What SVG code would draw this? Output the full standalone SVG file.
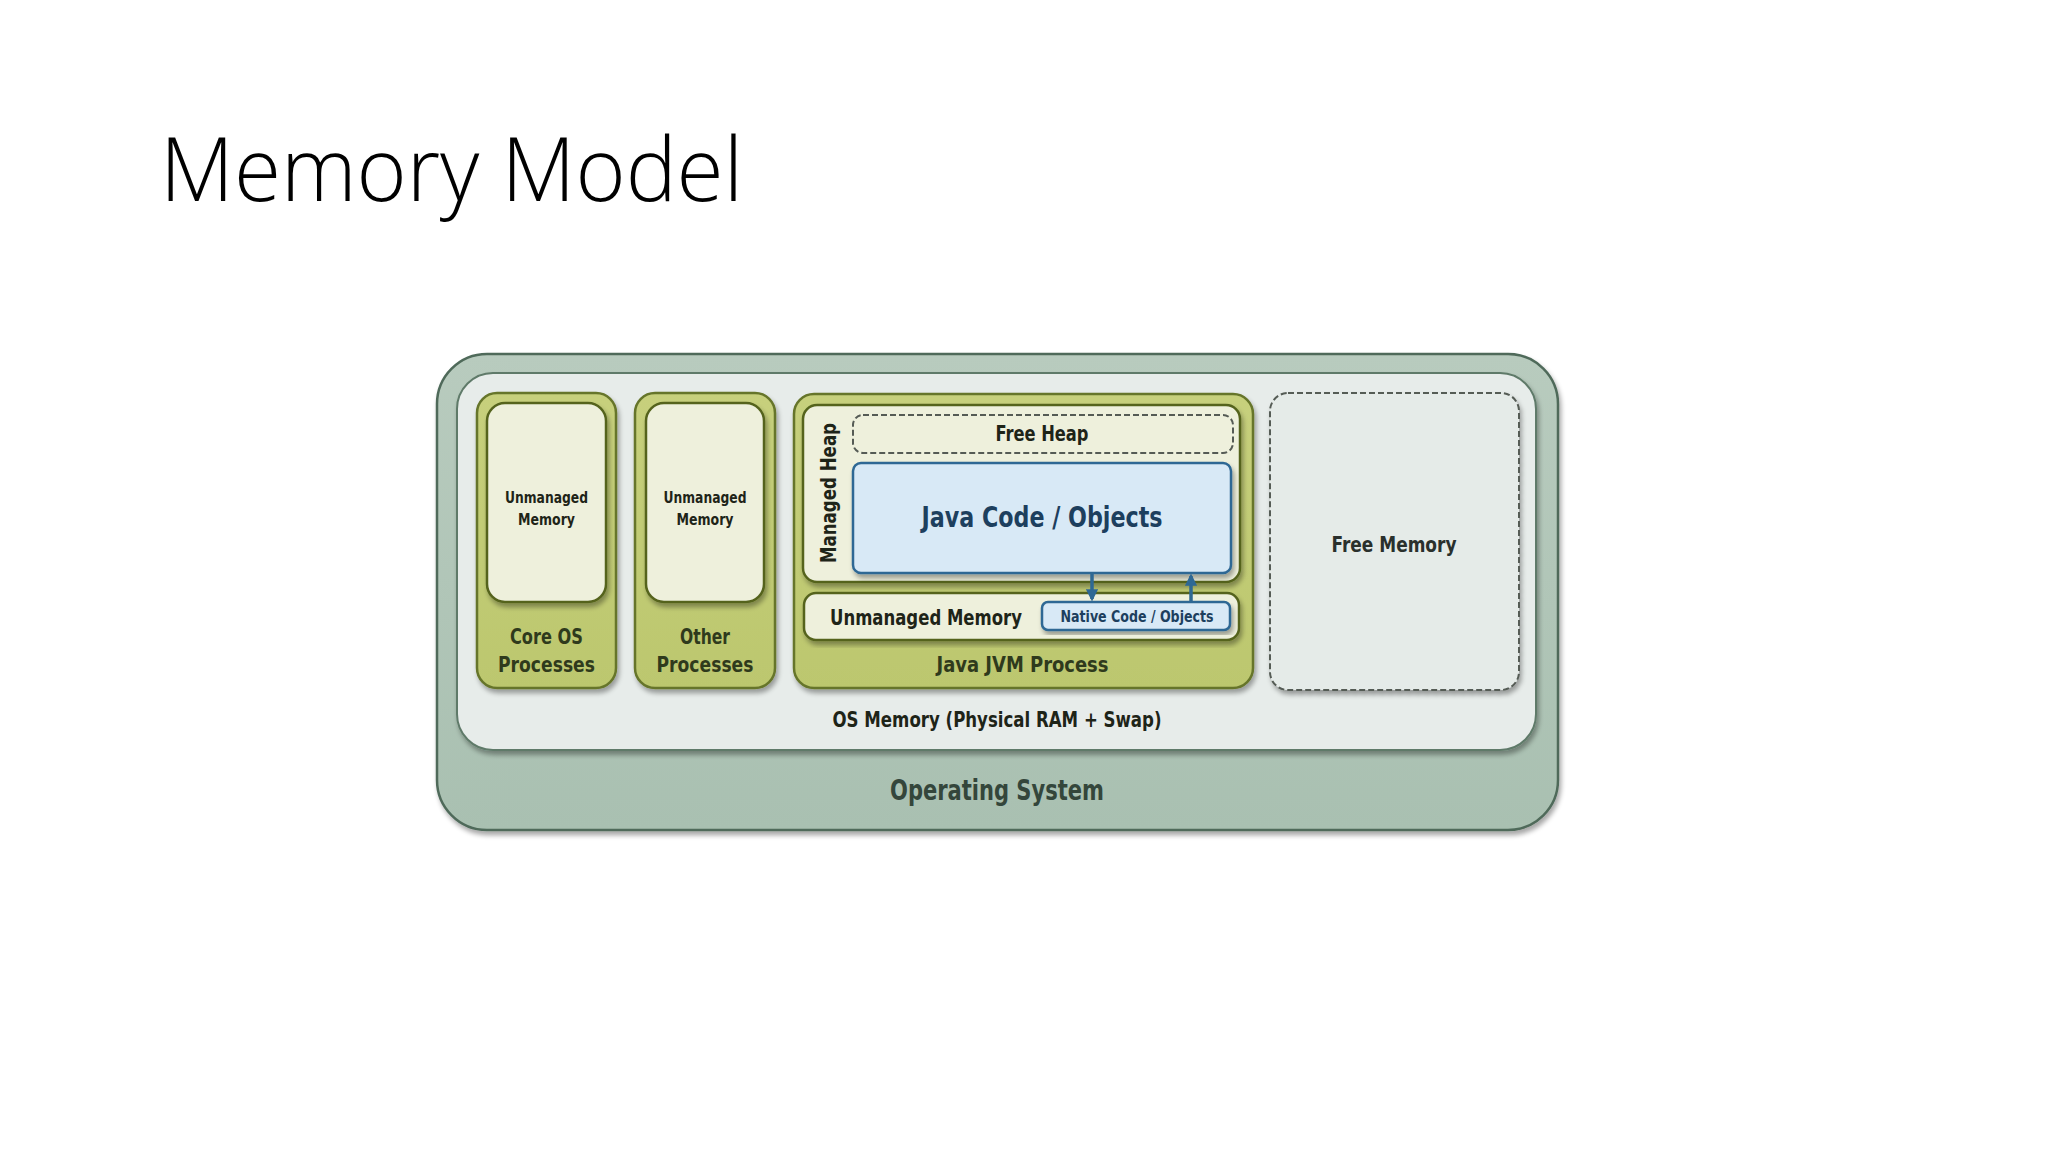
<svg xmlns="http://www.w3.org/2000/svg" width="2048" height="1152" viewBox="0 0 2048 1152">
  <defs>
    <filter id="sh" x="-10%" y="-10%" width="120%" height="125%">
      <feGaussianBlur in="SourceAlpha" stdDeviation="2.5"/>
      <feOffset dx="2" dy="4" result="b"/>
      <feComponentTransfer><feFuncA type="linear" slope="0.35"/></feComponentTransfer>
      <feMerge><feMergeNode/><feMergeNode in="SourceGraphic"/></feMerge>
    </filter>
    <linearGradient id="gOS" x1="0" y1="0" x2="0" y2="1">
      <stop offset="0" stop-color="#b8cbbe"/>
      <stop offset="1" stop-color="#a9c0b1"/>
    </linearGradient>
    <linearGradient id="gGreen" x1="0" y1="0" x2="0" y2="1">
      <stop offset="0" stop-color="#c7d07c"/>
      <stop offset="1" stop-color="#bcc76e"/>
    </linearGradient>
    <marker id="ah" viewBox="0 0 10 10" refX="8" refY="5" markerWidth="3.5" markerHeight="3.5" orient="auto-start-reverse">
      <path d="M0,0 L10,5 L0,10 z" fill="#2e6894"/>
    </marker>
    <style>
      .lbl { font-family: "DejaVu Sans Condensed", "Liberation Sans", Arial, sans-serif; font-stretch: condensed; font-weight: bold; text-anchor: middle; }
      .dark { fill: #1e2418; }
      .olive { fill: #2f3a1c; }
      .navy { fill: #1d3f5e; }
      .osbox { fill: url(#gOS); stroke: #4f6a5a; stroke-width: 2.5; }
      .osmem { fill: #e7ecea; stroke: #5f7a69; stroke-width: 2; }
      .green { fill: url(#gGreen); stroke: #66752a; stroke-width: 2.5; }
      .cream { fill: #eef0dc; stroke: #55641f; stroke-width: 2.5; }
      .dash { stroke: #555b55; stroke-width: 2; stroke-dasharray: 6 3; }
      .blue { fill: #d8e9f6; stroke: #2e6894; stroke-width: 2.5; }
      .conn { stroke: #2e6894; stroke-width: 3.5; fill: none; }
    </style>
  </defs>

  <rect width="2048" height="1152" fill="#ffffff"/>

  <text x="160" y="201" font-family="'Open Sans', 'Noto Sans', sans-serif" font-weight="300" font-size="88" textLength="583" lengthAdjust="spacingAndGlyphs" fill="#000000">Memory Model</text>

  <g id="operating-system">
    <rect class="osbox" x="437" y="354" width="1121" height="476" rx="50" filter="url(#sh)"/>
    <text class="lbl" x="997" y="800" font-size="28" textLength="214" lengthAdjust="spacingAndGlyphs" fill="#34463b">Operating System</text>
  </g>

  <g id="os-memory">
    <rect class="osmem" x="457" y="373" width="1079" height="377" rx="36" filter="url(#sh)"/>
    <text class="lbl dark" x="997" y="727" font-size="21" textLength="329" lengthAdjust="spacingAndGlyphs">OS Memory (Physical RAM + Swap)</text>
  </g>

  <g id="core-os-processes">
    <rect class="green" x="477" y="393" width="139" height="295" rx="20" filter="url(#sh)"/>
    <text class="lbl olive" x="546.5" y="644" font-size="22" textLength="73" lengthAdjust="spacingAndGlyphs">Core OS</text>
    <text class="lbl olive" x="546.5" y="672" font-size="22" textLength="97" lengthAdjust="spacingAndGlyphs">Processes</text>
  </g>
  <g id="core-os-unmanaged">
    <rect class="cream" x="487" y="403" width="119" height="199" rx="18" filter="url(#sh)"/>
    <text class="lbl dark" x="546.5" y="503" font-size="16" textLength="83" lengthAdjust="spacingAndGlyphs">Unmanaged</text>
    <text class="lbl dark" x="546.5" y="525" font-size="16" textLength="57" lengthAdjust="spacingAndGlyphs">Memory</text>
  </g>

  <g id="other-processes">
    <rect class="green" x="635" y="393" width="140" height="295" rx="20" filter="url(#sh)"/>
    <text class="lbl olive" x="705" y="644" font-size="22" textLength="50" lengthAdjust="spacingAndGlyphs">Other</text>
    <text class="lbl olive" x="705" y="672" font-size="22" textLength="97" lengthAdjust="spacingAndGlyphs">Processes</text>
  </g>
  <g id="other-unmanaged">
    <rect class="cream" x="646" y="403" width="118" height="199" rx="18" filter="url(#sh)"/>
    <text class="lbl dark" x="705" y="503" font-size="16" textLength="83" lengthAdjust="spacingAndGlyphs">Unmanaged</text>
    <text class="lbl dark" x="705" y="525" font-size="16" textLength="57" lengthAdjust="spacingAndGlyphs">Memory</text>
  </g>

  <g id="java-jvm-process">
    <rect class="green" x="794" y="394" width="459" height="294" rx="20" filter="url(#sh)"/>
    <text class="lbl olive" x="1022.5" y="672" font-size="21" textLength="172" lengthAdjust="spacingAndGlyphs">Java JVM Process</text>
  </g>

  <g id="managed-heap">
    <rect class="cream" x="803" y="405" width="437" height="177" rx="14" filter="url(#sh)"/>
    <text class="lbl dark" transform="translate(836 493) rotate(-90)" x="0" y="0" font-size="21" textLength="140" lengthAdjust="spacingAndGlyphs">Managed Heap</text>
  </g>

  <g id="free-heap">
    <rect class="dash" fill="#eef0dc" x="853" y="415" width="380" height="38" rx="10"/>
    <text class="lbl dark" x="1042" y="441" font-size="21" textLength="93" lengthAdjust="spacingAndGlyphs">Free Heap</text>
  </g>

  <g id="java-code-objects">
    <rect class="blue" x="853" y="463" width="378" height="110" rx="8" filter="url(#sh)"/>
    <text class="lbl navy" x="1042" y="527" font-size="28" textLength="241" lengthAdjust="spacingAndGlyphs">Java Code / Objects</text>
  </g>

  <g id="jvm-unmanaged-memory">
    <rect class="cream" x="804" y="593" width="435" height="47" rx="12" filter="url(#sh)"/>
    <text class="lbl dark" x="926" y="625" font-size="21" textLength="192" lengthAdjust="spacingAndGlyphs">Unmanaged Memory</text>
  </g>

  <g id="native-code-objects">
    <rect class="blue" x="1042" y="602" width="188" height="28" rx="6" filter="url(#sh)"/>
    <text class="lbl navy" x="1137" y="622" font-size="16" textLength="153" lengthAdjust="spacingAndGlyphs">Native Code / Objects</text>
  </g>

  <g id="free-memory">
    <rect class="dash" fill="#e5ebe8" x="1270" y="393" width="249" height="297" rx="18" filter="url(#sh)"/>
    <text class="lbl" x="1394" y="552" font-size="21" textLength="125" lengthAdjust="spacingAndGlyphs" fill="#2a302c">Free Memory</text>
  </g>

  <g id="connectors">
    <line class="conn" x1="1092" y1="574" x2="1092" y2="599" marker-end="url(#ah)"/>
    <line class="conn" x1="1191" y1="601" x2="1191" y2="576" marker-end="url(#ah)"/>
  </g>
</svg>
